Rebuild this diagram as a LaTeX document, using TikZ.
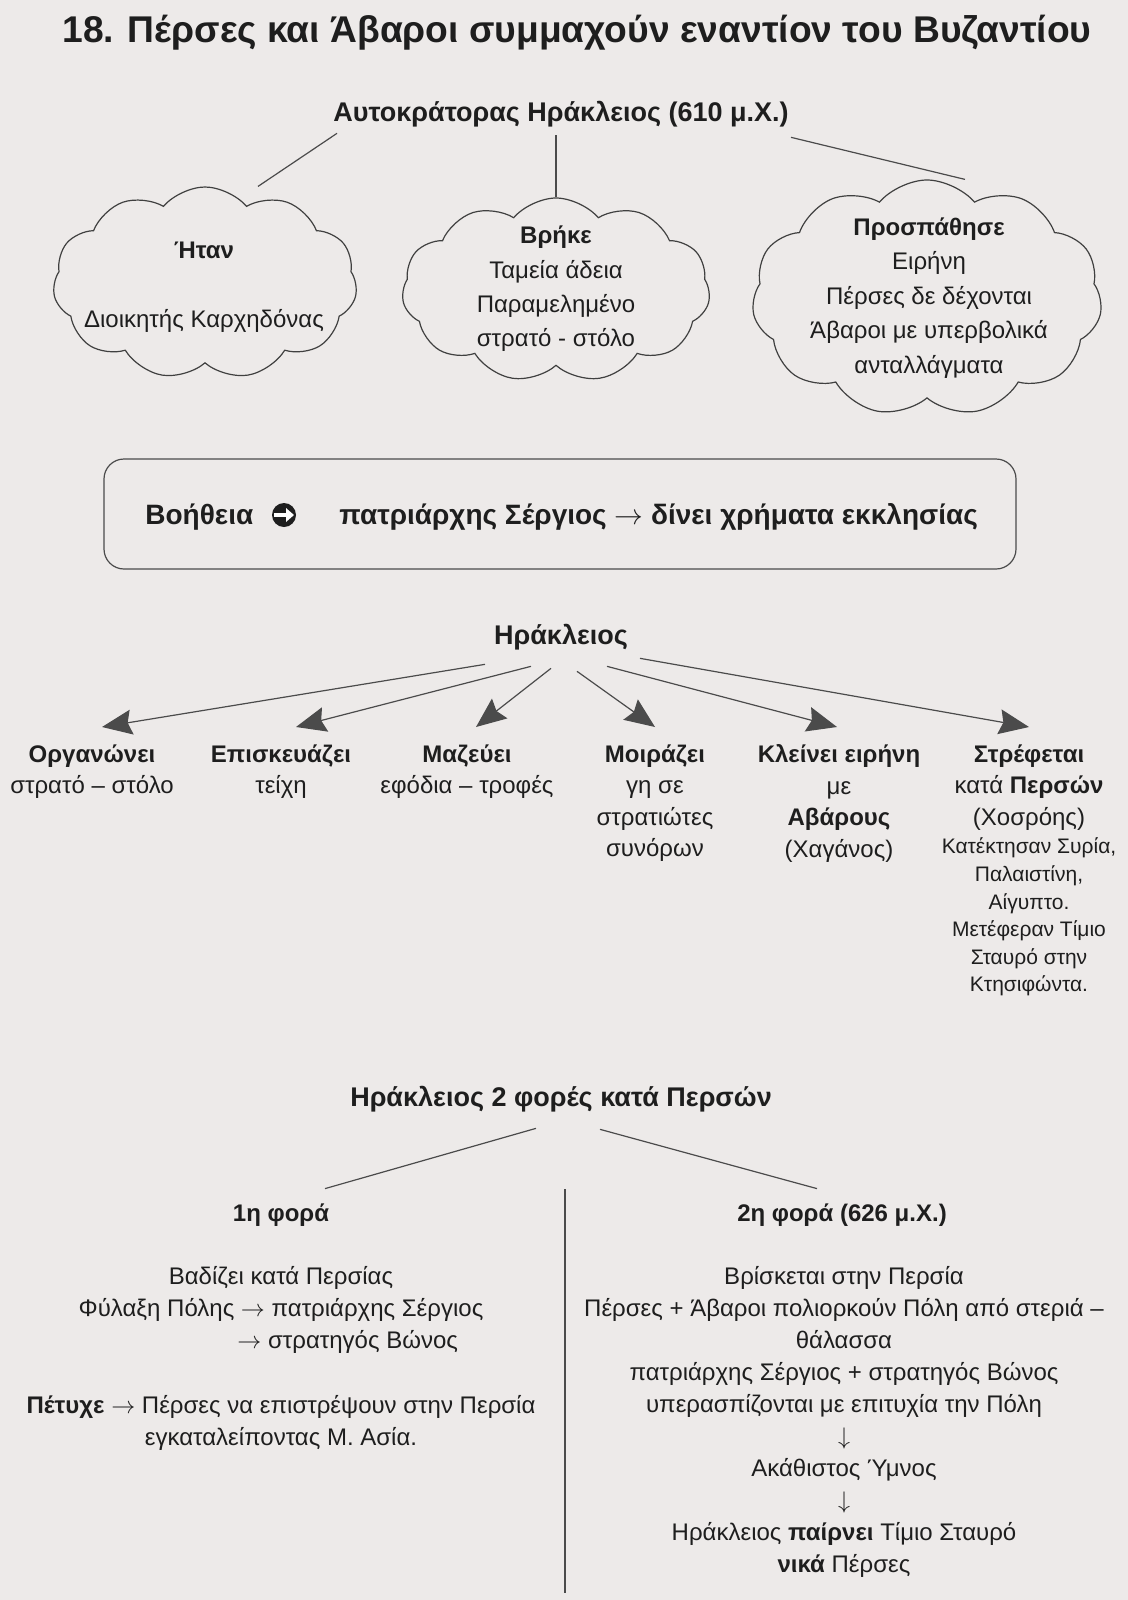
\documentclass[tikz,border=0pt]{standalone}
\usepackage{fontspec}
\setmainfont{Liberation Sans}
\usetikzlibrary{arrows.meta,calc,positioning,shapes.symbols}
\definecolor{paper}{RGB}{237,234,233}
\definecolor{ink}{RGB}{30,30,30}

\begin{document}
\begin{tikzpicture}[x=0.5pt,y=-0.5pt,align=center,node distance=2pt,text=ink]
\tikzstyle{heading}=[font=\bfseries\fontsize{13.5}{17}\selectfont,inner sep=1pt]
\tikzstyle{colhead}=[font=\fontsize{12}{15.8}\selectfont,inner sep=0pt,anchor=north]
\tikzstyle{body}=[font=\fontsize{12}{16}\selectfont,inner sep=0pt]
\tikzstyle{puff}=[cloud,draw=ink!85,line width=0.6pt,cloud puffs=11,cloud puff arc=100,cloud ignores aspect,inner sep=0pt]
\tikzstyle{pufftext}=[font=\fontsize{12}{17.2}\selectfont,inner sep=0pt]
\tikzstyle{link}=[-,ink!80,line width=0.6pt]
\tikzstyle{pointer}=[-{Stealth[length=15pt,width=12.5pt,inset=2pt]},ink!80,line width=0.6pt]

\useasboundingbox[fill=paper] (0,0) rectangle (1128,1600);

% title
\node[font=\bfseries\fontsize{18.6}{22}\selectfont] (title) at (577,33) {18. Πέρσες και Άβαροι συμμαχούν εναντίον του Βυζαντίου};

% emperor and clouds
\node[heading] (emperor) at (561,114) {Αυτοκράτορας Ηράκλειος (610 μ.Χ.)};
\node[puff,minimum width=152pt,minimum height=96pt] (was) at (205,283) {};
\node[puff,minimum width=154pt,minimum height=92pt] (found) at (556,290) {};
\node[puff,minimum width=175pt,minimum height=118pt] (tried) at (927,298) {};
\node[pufftext] (wastext) at (204,287) {\textbf{Ήταν}\\[17.2pt]Διοικητής Καρχηδόνας};
\node[pufftext] (foundtext) at (556,289) {\textbf{Βρήκε}\\Ταμεία άδεια\\Παραμελημένο\\στρατό - στόλο};
\node[pufftext] (triedtext) at (929,298) {\textbf{Προσπάθησε}\\Ειρήνη\\Πέρσες δε δέχονται\\Άβαροι με υπερβολικά\\ανταλλάγματα};
\draw[link] ($(emperor.south)+(-224,4)$) -- ($(was.north)+(53,0)$);
\draw[link] ($(emperor.south)+(-5,6)$) -- (found.north);
\draw[link] ($(emperor.south)+(230,8)$) -- ($(tried.north)+(38,0)$);

% help box
\node[draw=ink!80,line width=0.6pt,rounded corners=10pt,minimum width=456pt,minimum height=55pt] (helpbox) at (560,514) {};
\node[font=\bfseries\fontsize{14}{17}\selectfont,inner sep=1pt,anchor=west] (help) at (143,517) {Βοήθεια};
\node[circle,fill=ink,minimum size=12pt,inner sep=0pt] (helpsym) at (284,515) {};
\fill[white] ($(helpsym)+(-10,-2)$) rectangle ($(helpsym)+(3,2)$);
\fill[white] ($(helpsym)+(2,-7)$) -- ($(helpsym)+(10,0)$) -- ($(helpsym)+(2,7)$) -- cycle;
\node[font=\bfseries\fontsize{14}{17}\selectfont,inner sep=1pt,anchor=west] (helptext) at (337,517) {πατριάρχης Σέργιος $\rightarrow$ δίνει χρήματα εκκλησίας};

% what he did
\node[heading] (herac) at (561,637) {Ηράκλειος};
\node[colhead] (army) at (92,744) {\textbf{Οργανώνει}\\στρατό – στόλο};
\node[colhead] (walls) at (281,744) {\textbf{Επισκευάζει}\\τείχη};
\node[colhead] (food) at (467,744) {\textbf{Μαζεύει}\\εφόδια – τροφές};
\node[colhead] (land) at (655,744) {\textbf{Μοιράζει}\\γη σε\\στρατιώτες\\συνόρων};
\node[colhead] (peace) at (839,744) {\textbf{Κλείνει ειρήνη}\\με\\\textbf{Αβάρους}\\(Χαγάνος)};
\node[colhead] (turn) at (1029,744) {\textbf{Στρέφεται}\\κατά \textbf{Περσών}\\(Χοσρόης)};
\node[font=\fontsize{10.5}{13.8}\selectfont,inner sep=0pt] (turnnote) [below=3.5pt of turn] {Κατέκτησαν Συρία,\\Παλαιστίνη,\\Αίγυπτο.\\Μετέφεραν Τίμιο\\Σταυρό στην\\Κτησιφώντα.};
\draw[pointer] ($(herac.south)+(-76,12)$) -- ($(army.north)+(10,-17)$);
\draw[pointer] ($(herac.south)+(-30,14)$) -- ($(walls.north)+(15,-17)$);
\draw[pointer] ($(herac.south)+(-10,16)$) -- ($(food.north)+(9,-17)$);
\draw[pointer] ($(herac.south)+(16,19)$) -- ($(land.north)+(0,-17)$);
\draw[pointer] ($(herac.south)+(46,14)$) -- ($(peace.north)+(-2,-17)$);
\draw[pointer] ($(herac.south)+(79,6)$) -- ($(turn.north)+(0,-17)$);

% two campaigns
\node[heading] (twice) at (561,1099) {Ηράκλειος 2 φορές κατά Περσών};
\node[font=\bfseries\fontsize{12}{15}\selectfont] (first) at (281,1215) {1η φορά};
\node[font=\bfseries\fontsize{12}{15}\selectfont] (second) at (842,1215) {2η φορά (626 μ.Χ.)};
\draw[link] ($(twice.south)+(-25,14)$) -- ($(first.north)+(44,-8)$);
\draw[link] ($(twice.south)+(39,15)$) -- ($(second.north)+(-25,-8)$);
\coordinate (divtop) at (565,1189);
\coordinate (divbot) at (565,1593);
\draw[link] (divtop) -- (divbot);

\node[body] (march) at (281,1294) {Βαδίζει κατά Περσίας\\Φύλαξη Πόλης $\rightarrow$ πατριάρχης Σέργιος};
\node[body,anchor=west] (guard) at (237,1342) {$\rightarrow$ στρατηγός Βώνος};
\node[body] (success) at (281,1423) {\textbf{Πέτυχε} $\rightarrow$ Πέρσες να επιστρέψουν στην Περσία\\εγκαταλείποντας Μ. Ασία.};
\node[body] (defence) at (844,1422) {Βρίσκεται στην Περσία\\Πέρσες + Άβαροι πολιορκούν Πόλη από στεριά –\\θάλασσα\\πατριάρχης Σέργιος + στρατηγός Βώνος\\υπερασπίζονται με επιτυχία την Πόλη\\$\downarrow$\\Ακάθιστος Ύμνος\\$\downarrow$\\Ηράκλειος \textbf{παίρνει} Τίμιο Σταυρό\\\textbf{νικά} Πέρσες};
\end{tikzpicture}
\end{document}
